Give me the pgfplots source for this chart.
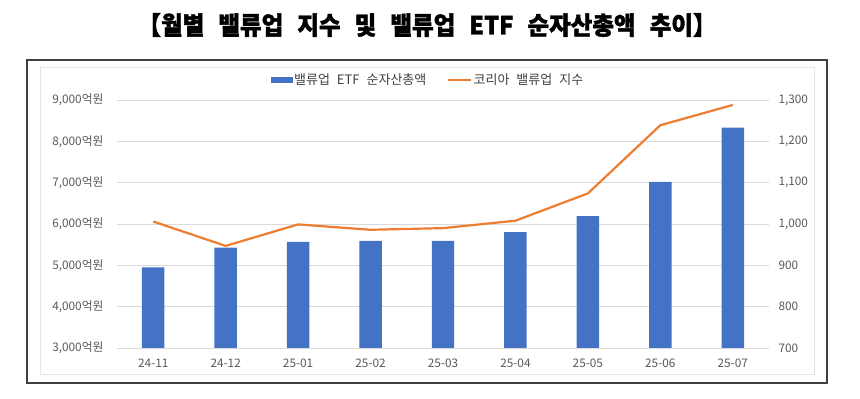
\documentclass[border=0pt]{standalone}
\usepackage{fontspec}
\setmainfont{Noto Sans CJK KR}
\newfontfamily\titlefont[BoldFeatures={FakeBold=1.5}]{Noto Sans CJK KR}
\usepackage{pgfplots}
\pgfplotsset{compat=1.18}
\definecolor{barblue}{HTML}{4472C4}
\definecolor{lineorange}{HTML}{ED7D31}
\definecolor{gridgray}{HTML}{D9D9D9}
\definecolor{ticktext}{HTML}{595959}
\definecolor{legtext}{HTML}{404040}
\begin{document}
\begin{tikzpicture}
\path[use as bounding box] (0pt,0pt) rectangle (860pt,399pt);
\draw[line width=1.5pt, color=black!75] (27pt,16pt) rectangle (827pt,339pt);
\draw[line width=0.8pt, color=gray!20] (40pt,25pt) rectangle (814pt,332pt);
\node[font=\titlefont\bfseries\fontsize{25}{29}\selectfont, xscale=0.94] at (427pt,374pt) {【월별\hspace{15pt}밸류업\hspace{15pt}지수\hspace{15pt}및\hspace{15pt}밸류업\hspace{15pt}ETF\hspace{15pt}순자산총액\hspace{15pt}추이】};
\begin{axis}[
  at={(117pt,51pt)}, anchor=south west, scale only axis,
  width=652pt, height=248pt,
  xmin=-0.5, xmax=8.5, ymin=3000, ymax=9000,
  axis line style={draw=none}, major tick length=0pt,
  ymajorgrids, grid style={gridgray, line width=0.8pt},
  xtick={0,...,8},
  xticklabels={24-11,24-12,25-01,25-02,25-03,25-04,25-05,25-06,25-07},
  ytick={3000,4000,5000,6000,7000,8000,9000},
  yticklabels={{3,000억원},{4,000억원},{5,000억원},{6,000억원},{7,000억원},{8,000억원},{9,000억원}},
  tick label style={font=\fontsize{11.8}{13}\selectfont, color=ticktext},
  yticklabel style={xshift=-10pt},
  xticklabel style={yshift=-7pt},
]
\addplot[ybar, bar width=0.31, fill=barblue, draw=none] coordinates {
(0,4950) (1,5430) (2,5570) (3,5590) (4,5590) (5,5806) (6,6190) (7,7020) (8,8330)};
\end{axis}
\begin{axis}[
  at={(117pt,51pt)}, anchor=south west, scale only axis,
  width=652pt, height=248pt,
  xmin=-0.5, xmax=8.5, ymin=700, ymax=1300,
  axis line style={draw=none}, major tick length=0pt,
  axis y line*=right, xtick=\empty,
  ytick={700,800,900,1000,1100,1200,1300},
  yticklabels={700,800,900,{1,000},{1,100},{1,200},{1,300}},
  tick label style={font=\fontsize{11.8}{13}\selectfont, color=ticktext},
  yticklabel style={xshift=6pt},
  legend columns=2,
  legend style={at={(0.477,1.081)}, anchor=center, draw=none, fill=none,
    font=\fontsize{13}{15}\selectfont, text=legtext,
    /tikz/every even column/.append style={column sep=18pt}},
]
\addlegendimage{legend image code/.code={\fill[barblue] (0pt,-2.5pt) rectangle (21pt,2.5pt);}}
\addlegendentry{밸류업\hspace{7pt}ETF\hspace{7pt}순자산총액}
\addplot[lineorange, line width=2.2pt, mark=none,
  legend image code/.code={\draw[lineorange, line width=2.2pt] (0pt,0pt) -- (23pt,0pt);}] coordinates {
(0,1006) (1,947) (2,999) (3,986) (4,990) (5,1008) (6,1074) (7,1239) (8,1288)};
\addlegendentry{코리아\hspace{7pt}밸류업\hspace{7pt}지수}
\end{axis}
\end{tikzpicture}
\end{document}
